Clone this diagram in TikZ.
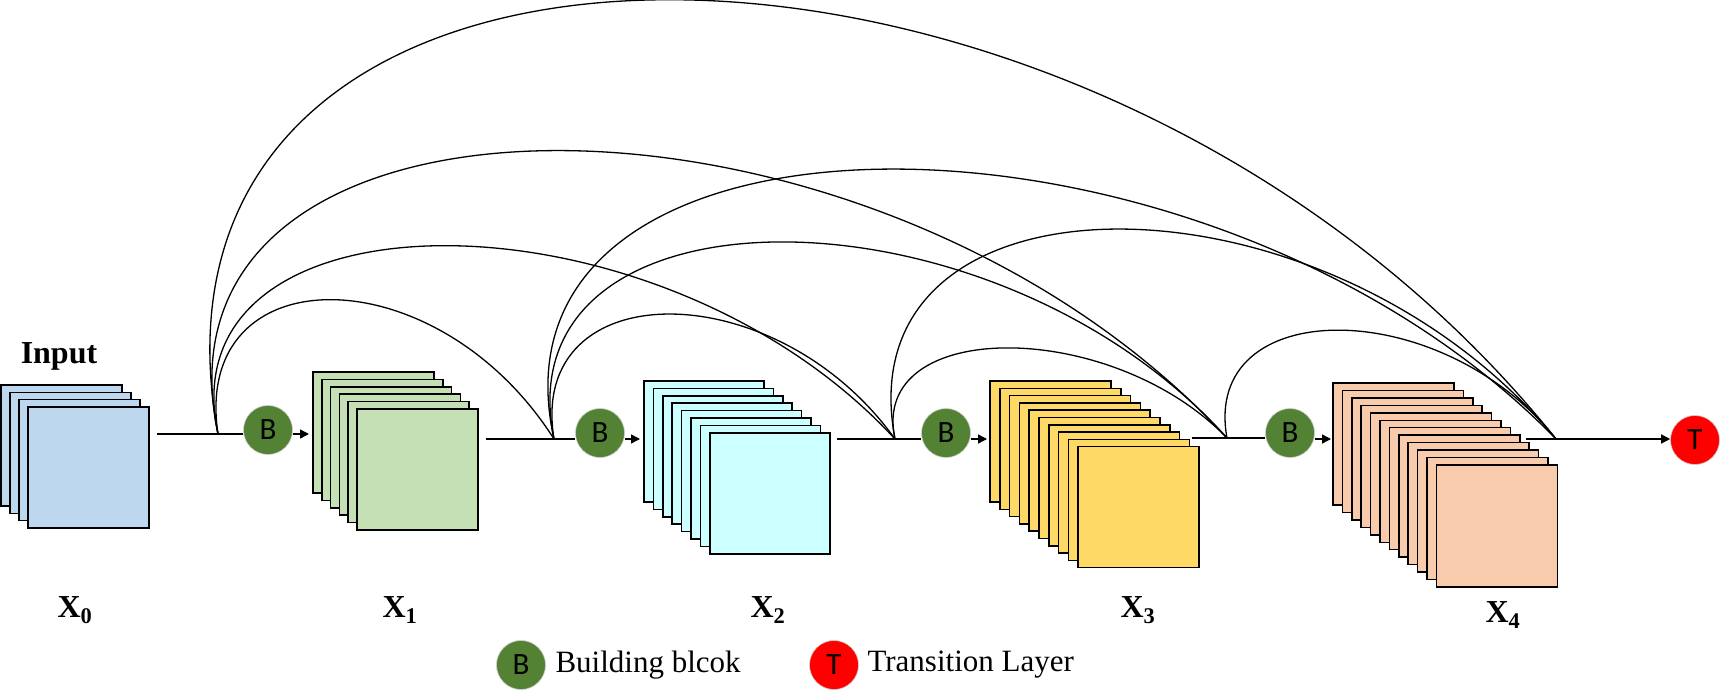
\documentclass[tikz,border=0pt]{standalone}
\usepackage{fontspec}
\setmainfont{Liberation Serif}
\newfontfamily\carlitofont{Carlito}
\usetikzlibrary{calc,arrows.meta}
\definecolor{cX0}{HTML}{BDD7EE}
\definecolor{cX1}{HTML}{C5E0B4}
\definecolor{cX2}{HTML}{CCFFFF}
\definecolor{cX3}{HTML}{FFD966}
\definecolor{cX4}{HTML}{F8CBAD}
\definecolor{bgreen}{HTML}{548235}
\newcommand\mystack[8]{% x0 y0 n dx dy w h color
  \foreach \k in {1,...,#3}{
    \draw[sheet,fill=#8] ({#1+(\k-1)*#4},{#2+(\k-1)*#5}) rectangle ++(#6,#7);
  }}
\newcommand\skiparc[4]{%
  \draw[arc] (#1) .. controls ($(#1)+(-0.08*#3,-1.333*#4)$) and ($(#1)+(0.65*#3,-1.333*#4)$) .. (#2);}
\begin{document}
\begin{tikzpicture}[x=1pt,y=-1pt,
  sheet/.style={line width=1.5pt,draw=black},
  arc/.style={line width=1.3pt},
  conn/.style={line width=1.4pt},
  arr/.style={line width=1.4pt,-{Triangle[length=9pt,width=9pt]}},
  blk/.style={circle,minimum size=49pt,inner sep=0pt,fill=bgreen,draw=gray!40,line width=0.6pt,font=\carlitofont\fontsize{31}{31}\selectfont},
  trn/.style={blk,fill=red},
  lab/.style={font=\bfseries\fontsize{32}{32}\selectfont},
  leg/.style={font=\fontsize{31}{31}\selectfont,anchor=west}]
\useasboundingbox (0,0) rectangle (1722,690);
% stacks
\mystack{1}{385}{4}{9}{7.3}{121}{121}{cX0}
\mystack{313}{372}{6}{8.8}{7.4}{121}{121}{cX1}
\mystack{644}{381}{8}{9.4}{7.4}{120}{121}{cX2}
\mystack{990}{381}{10}{9.8}{7.3}{121}{121}{cX3}
\mystack{1333}{383}{12}{9.4}{7.45}{121}{122}{cX4}
% labels
\node[lab] (inp) at (59,356) {Input};
\node[lab] (l0) at (75,610) {X\textsubscript{0}};
\node[lab] (l1) at (400,610) {X\textsubscript{1}};
\node[lab] (l2) at (768,610) {X\textsubscript{2}};
\node[lab] (l3) at (1138,610) {X\textsubscript{3}};
\node[lab] (l4) at (1503,615) {X\textsubscript{4}};
% blocks
\node[blk] (b1) at (268,430) {B};
\node[blk] (b2) at (600,433) {B};
\node[blk] (b3) at (946,433) {B};
\node[blk] (b4) at (1290,433) {B};
\node[trn] (t) at (1695,440) {T};
% junctions and line ends
\coordinate (s0) at (157,434); \coordinate (j0) at (218,434);
\coordinate (s1) at (486,439); \coordinate (j1) at (554,439);
\coordinate (s2) at (837,439); \coordinate (j2) at (895,439);
\coordinate (s3) at (1192,438); \coordinate (j3) at (1227,438);
\coordinate (s4) at (1526,439); \coordinate (j4) at (1556,439);
\coordinate (e1) at (309,434); \coordinate (e2) at (640,439);
\coordinate (e3) at (987,439); \coordinate (e4) at (1331,439);
\draw[conn] (s0) -- (j0) -- (b1.west|-j0);
\draw[conn] (s1) -- (j1) -- (b2.west|-j1);
\draw[conn] (s2) -- (j2) -- (b3.west|-j2);
\draw[conn] (s3) -- (j3) -- (b4.west|-j3);
\draw[arr] (s4) -- (j4) -- (t.west|-j4);
\draw[arr] (b1.east|-e1) -- (e1);
\draw[arr] (b2.east|-e2) -- (e2);
\draw[arr] (b3.east|-e3) -- (e3);
\draw[arr] (b4.east|-e4) -- (e4);
% skip arcs
\skiparc{j0}{j1}{336}{135}
\skiparc{j0}{j2}{677}{189}
\skiparc{j0}{j3}{1009}{284}
\skiparc{j0}{j4}{1338}{435}
\skiparc{j1}{j2}{341}{125}
\skiparc{j1}{j3}{673}{197}
\skiparc{j1}{j4}{1002}{270}
\skiparc{j2}{j3}{332}{91}
\skiparc{j2}{j4}{661}{210}
\skiparc{j3}{j4}{329}{108}
% legend
\node[blk] (lb) at (521,665) {B};
\node[leg] (lbt) at (552,665) {Building blcok};
\node[trn] (lt) at (834,665) {T};
\node[leg] (ltt) at (864,665) {Transition Layer};
\end{tikzpicture}
\end{document}
